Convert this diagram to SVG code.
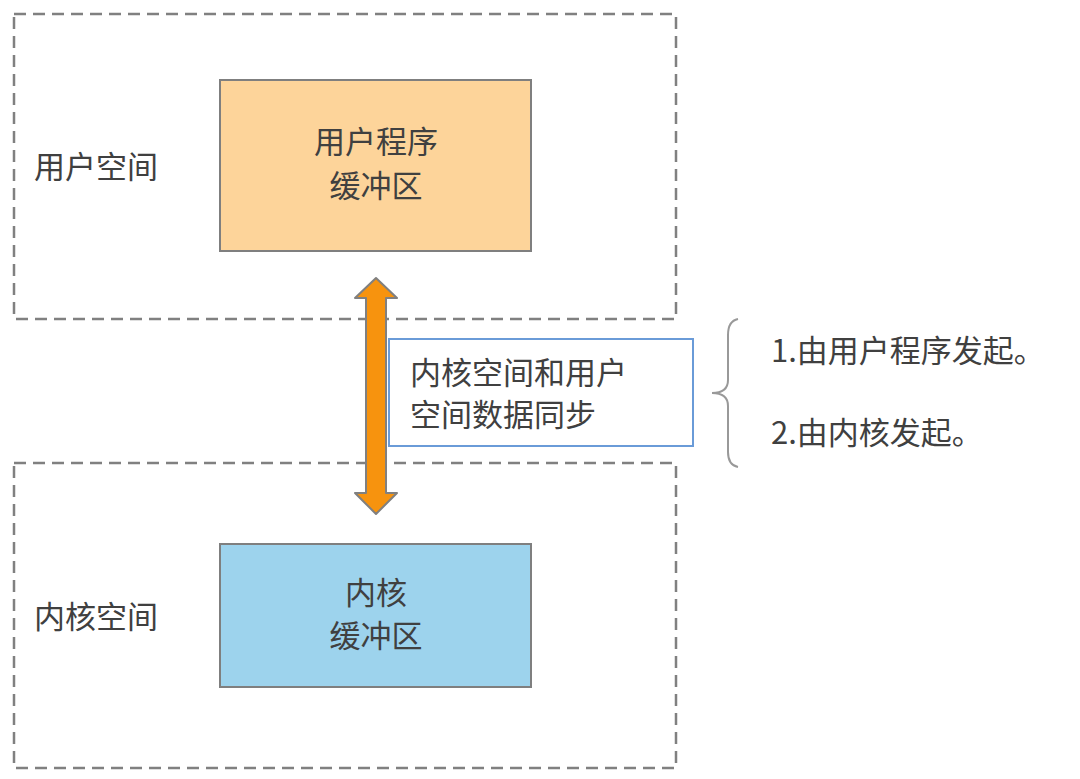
<svg xmlns="http://www.w3.org/2000/svg" width="1080" height="779" viewBox="0 0 1080 779">
<style>
text{font-family:"Noto Sans CJK SC","Noto Sans",sans-serif;fill:#404040;font-size:31px}
.dash{fill:none;stroke:#808080;stroke-width:2.5;stroke-dasharray:12,7}
.c{text-anchor:middle}
</style>
<rect width="1080" height="779" fill="#fff"/>
<g id="user-space"><rect class="dash" x="14" y="14" width="662" height="305"/><text x="34" y="178">用户空间</text></g>
<g id="kernel-space"><rect class="dash" x="14" y="463" width="662" height="305"/><text x="34" y="628">内核空间</text></g>
<g id="user-buffer"><rect x="220" y="80" width="311" height="171" fill="#fdd49a" stroke="#7f7f7f" stroke-width="2"/><text class="c" x="376" y="153">用户程序</text><text class="c" x="376" y="197">缓冲区</text></g>
<g id="kernel-buffer"><rect x="220" y="544" width="311" height="143" fill="#9dd3ed" stroke="#7f7f7f" stroke-width="2"/><text class="c" x="376" y="604">内核</text><text class="c" x="376" y="647">缓冲区</text></g>
<g id="connectors"><path d="M376,278 L397,298 L386,298 L386,493 L397,493 L376,514 L355,493 L366,493 L366,298 L355,298 Z" fill="#f7930e" stroke="#808080" stroke-width="2" stroke-linejoin="round"/></g>
<g id="sync-label"><rect x="389" y="339" width="304" height="107" fill="#fff" stroke="#6a9bd8" stroke-width="2"/><text x="410" y="384">内核空间和用户</text><text x="410" y="426">空间数据同步</text></g>
<g id="notes"><path d="M738,319 Q728,321 728,335 L728,380 Q728,393 712,393 Q728,393 728,406 L728,452 Q728,465 738,467" fill="none" stroke="#999" stroke-width="2"/><text x="771" y="362">1.由用户程序发起。</text><text x="771" y="444">2.由内核发起。</text></g>
</svg>
